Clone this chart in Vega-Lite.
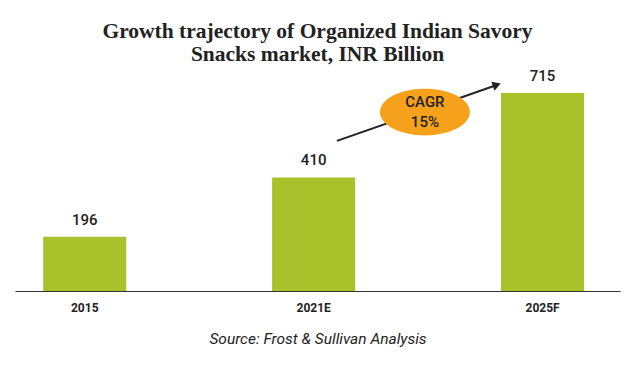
{
  "$schema": "https://vega.github.io/schema/vega-lite/v6.json",
  "autosize": "none",
  "width": 605,
  "height": 198,
  "padding": {"left": 15, "top": 93, "right": 20, "bottom": 74},
  "background": "white",
  "config": {"view": {"stroke": null}},
  "title": {
    "text": ["Growth trajectory of Organized Indian Savory", "Snacks market, INR Billion"],
    "anchor": "middle",
    "frame": "group",
    "font": "Liberation Serif",
    "fontWeight": "bold",
    "fontSize": 21.5,
    "lineHeight": 23,
    "color": "#222222",
    "offset": 4
  },
  "datasets": {
    "bars": [
      {"year": "2015", "value": 196},
      {"year": "2021E", "value": 410},
      {"year": "2025F", "value": 715}
    ],
    "arrow": [
      {"pos": 1.105, "value": 542, "pos2": 1.803, "value2": 744}
    ],
    "head": [
      {"pos": 1.803, "value": 744}
    ],
    "cagr": [
      {"pos": 1.489, "value": 646, "label": "CAGR\n15%"}
    ]
  },
  "layer": [
    {
      "data": {"name": "bars"},
      "layer": [
        {
          "mark": {"type": "bar", "color": "#a9c22b"},
          "encoding": {
            "x": {
              "field": "year", "type": "nominal", "sort": null,
              "scale": {"paddingInner": 0.637, "paddingOuter": 0.14, "align": 0.44},
              "axis": {
                "title": "Source: Frost & Sullivan Analysis",
                "titleFont": "Roboto", "titleFontStyle": "italic", "titleFontWeight": "normal",
                "titleFontSize": 15.5, "titleColor": "#222222", "titlePadding": 18,
                "labelAngle": 0, "labelFont": "Roboto", "labelFontWeight": "bold",
                "labelFontSize": 12, "labelColor": "#222222", "labelPadding": 11,
                "ticks": false, "domainColor": "#333333", "domainWidth": 1
              }
            },
            "y": {
              "field": "value", "type": "quantitative",
              "scale": {"domain": [0, 715], "nice": false, "zero": true},
              "axis": null
            }
          }
        },
        {
          "mark": {"type": "text", "baseline": "bottom", "dy": -9, "font": "Roboto", "fontWeight": 500, "fontSize": 15, "color": "#222222"},
          "encoding": {
            "x": {"field": "year", "type": "nominal", "sort": null},
            "y": {"field": "value", "type": "quantitative"},
            "text": {"field": "value", "type": "quantitative"}
          }
        }
      ]
    },
    {
      "layer": [
        {
          "data": {"name": "arrow"},
          "mark": {"type": "rule", "color": "#222222", "strokeWidth": 2},
          "encoding": {
            "x": {"field": "pos", "type": "quantitative", "scale": {"domain": [-0.301, 2.341], "nice": false, "zero": false}, "axis": null},
            "x2": {"field": "pos2"},
            "y": {"field": "value", "type": "quantitative"},
            "y2": {"field": "value2"}
          }
        },
        {
          "data": {"name": "head"},
          "mark": {"type": "point", "shape": "triangle-up", "filled": true, "color": "#222222", "size": 90, "angle": 70.6, "opacity": 1},
          "encoding": {
            "x": {"field": "pos", "type": "quantitative"},
            "y": {"field": "value", "type": "quantitative"}
          }
        },
        {
          "data": {"name": "cagr"},
          "mark": {"type": "point", "shape": "M -1,0 A 1,0.52 0 1,0 1,0 A 1,0.52 0 1,0 -1,0 Z", "filled": true, "color": "#f5a11c", "size": 8100, "opacity": 1},
          "encoding": {
            "x": {"field": "pos", "type": "quantitative"},
            "y": {"field": "value", "type": "quantitative"}
          }
        },
        {
          "data": {"name": "cagr"},
          "mark": {"type": "text", "lineBreak": "\n", "lineHeight": 20, "baseline": "middle", "dy": -10, "font": "Roboto", "fontWeight": 500, "fontSize": 15, "color": "#222222"},
          "encoding": {
            "x": {"field": "pos", "type": "quantitative"},
            "y": {"field": "value", "type": "quantitative"},
            "text": {"field": "label", "type": "nominal"}
          }
        }
      ]
    }
  ],
  "resolve": {"scale": {"x": "independent"}}
}
